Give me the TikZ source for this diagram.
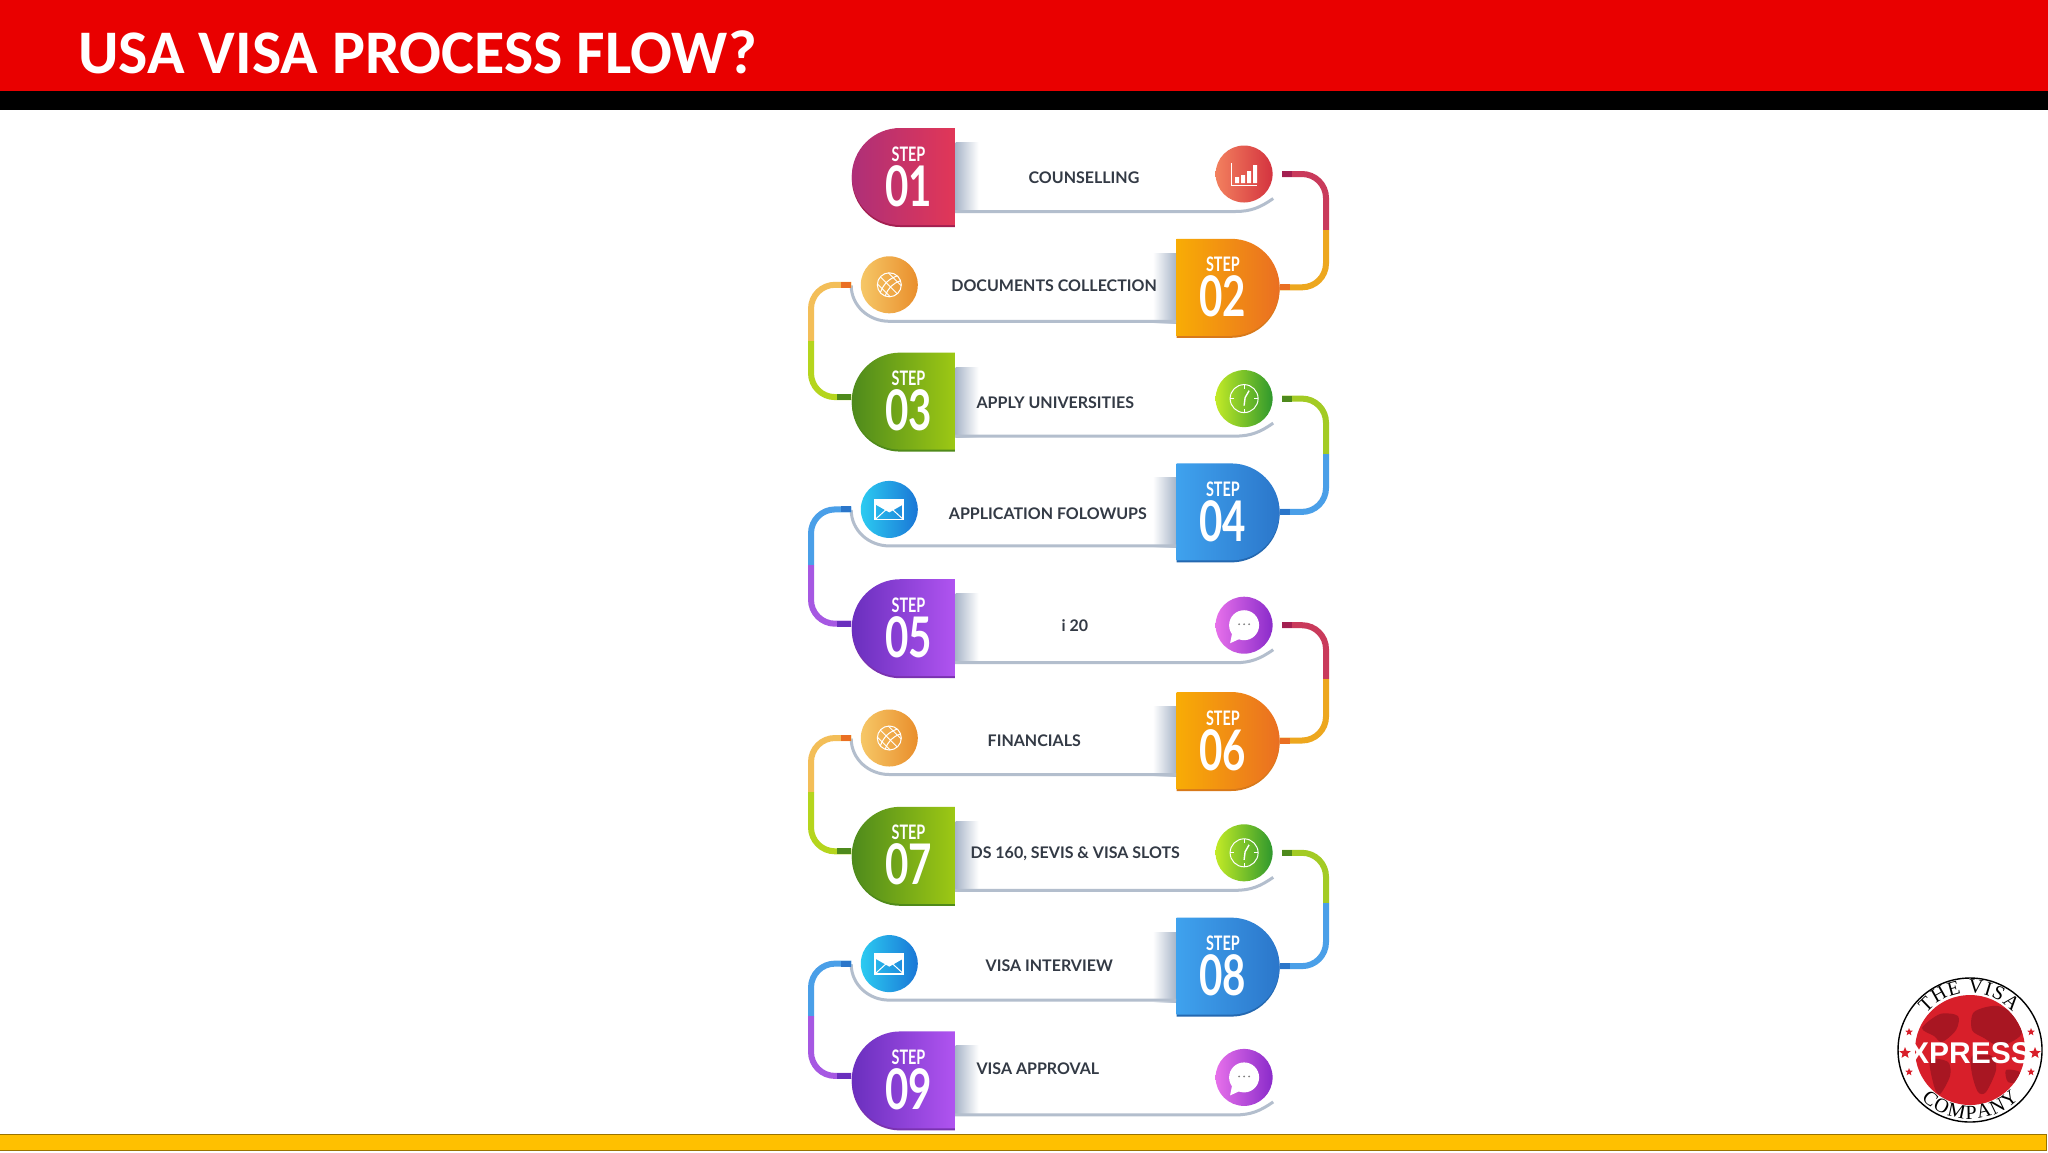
\documentclass[tikz,border=0pt]{standalone}
\usepackage{fontspec}
\usetikzlibrary{calc,positioning,shapes.misc,shapes.geometric,shadows,decorations.text}
\setmainfont{Lato}
\newfontfamily\titlefont{Carlito}
\newfontfamily\stepfont[FakeStretch=0.72]{Lato}
\newfontfamily\logofont{Liberation Serif}
\newfontfamily\markfont{Liberation Sans}
\definecolor{headred}{HTML}{E90000}
\definecolor{bandyellow}{HTML}{FFC000}
\definecolor{trackgray}{HTML}{B3BECD}
\definecolor{labelink}{HTML}{333A45}
\definecolor{logored}{HTML}{D81F2A}
\definecolor{landred}{HTML}{A81622}
\definecolor{rosedeep}{HTML}{AE2F78}\definecolor{rosebright}{HTML}{E13757}\definecolor{rosedark}{HTML}{A31F50}
\definecolor{amberbright}{HTML}{F8AC05}\definecolor{amberdeep}{HTML}{EA6F22}\definecolor{amberdark}{HTML}{D8791A}
\definecolor{limedeep}{HTML}{4E8A1C}\definecolor{limebright}{HTML}{9DC814}\definecolor{limedark}{HTML}{4F8A1A}
\definecolor{bluebright}{HTML}{3FA2EE}\definecolor{bluedeep}{HTML}{2B76CA}\definecolor{bluedark}{HTML}{2468B0}
\definecolor{violetdeep}{HTML}{6A2FBE}\definecolor{violetbright}{HTML}{B054F0}\definecolor{violetdark}{HTML}{7A32B0}
\definecolor{rosesoft}{HTML}{F2805E}\definecolor{rosestrong}{HTML}{D4333F}
\definecolor{ambersoft}{HTML}{F6C767}\definecolor{amberstrong}{HTML}{E98E2C}
\definecolor{limesoft}{HTML}{C2EA26}\definecolor{limestrong}{HTML}{2F982D}
\definecolor{bluesoft}{HTML}{2CCBF1}\definecolor{bluestrong}{HTML}{1A76D6}
\definecolor{violetsoft}{HTML}{E670EA}\definecolor{violetstrong}{HTML}{8A2BCA}
\definecolor{linkrose}{HTML}{C93A5B}\definecolor{linkamber}{HTML}{EDA71E}
\definecolor{linksand}{HTML}{F3BE58}\definecolor{linklime}{HTML}{A3CB24}
\definecolor{linkblue}{HTML}{4A9FE8}\definecolor{linkviolet}{HTML}{A658E2}
\definecolor{fadeblue}{HTML}{A9B6C9}
\tikzset{
pics/bars/.style={code={
\draw[glyph] (-13,11) -- (-13,-11) -- (13,-11);
\fill[white] (-9,-9) rectangle (-5,-3) (-3,-9) rectangle (1,-1) (3,-9) rectangle (7,3) (9,-9) rectangle (13,9);}},
pics/globe/.style={code={
\draw[glyph] (0,0) circle (12);
\draw[glyph] (-9,8) -- (8,-9) (-12,1) -- (1,-12) (-1,12) -- (12,-1);
\draw[glyph] (-9,-8) to[bend left=25] (8,9) (-4,-11) to[bend left=25] (11,4);}},
pics/clock/.style={code={
\draw[glyph] (0,0) circle (14);
\draw[glyph, line width=.7pt] (0,-7) -- (1,1) -- (5,8);
\draw[glyph] (0,14) -- (0,10) (0,-14) -- (0,-10) (14,0) -- (10,0) (-14,0) -- (-10,0);}},
pics/mail/.style={code={
\draw[white, line width=.9pt] (-14,-10) rectangle (14,10);
\fill[white] (-14,10) -- (14,10) -- (14,5) -- (0,-3) -- (-14,5) -- cycle;
\draw[glyph] (-14,-10) -- (-3,0) (14,-10) -- (3,0);}},
pics/chat/.style={code={
\fill[white] (0,0) circle (15);
\fill[white] (-12,-8) -- (-14,-18) -- (-3,-13) -- cycle;
\fill[gray] (-5,1) circle (1) (0,1) circle (1) (5,1) circle (1);}}
}

\begin{document}
\begin{tikzpicture}
[x=.5pt, y=.5pt,
badge/.style={rounded rectangle, minimum width=51.5pt, minimum height=48.5pt,
inner sep=0pt, text=white, align=center,
font=\stepfont\bfseries\fontsize{28}{22.5}\selectfont},
oddbadge/.style={badge, rounded rectangle east arc=none},
evenbadge/.style={badge, rounded rectangle west arc=none},
rim/.style={general shadow={fill=#1, shadow xshift=0pt, shadow yshift=-1pt}},
rosebadge/.style={oddbadge, left color=rosedeep, right color=rosebright, rim=rosedark},
amberbadge/.style={evenbadge, left color=amberbright, right color=amberdeep, rim=amberdark},
limebadge/.style={oddbadge, left color=limedeep, right color=limebright, rim=limedark},
bluebadge/.style={evenbadge, left color=bluebright, right color=bluedeep, rim=bluedark},
violetbadge/.style={oddbadge, left color=violetdeep, right color=violetbright, rim=violetdark},
iconbase/.style={circle, minimum size=28.5pt, inner sep=0pt},
roseicon/.style={iconbase, left color=rosesoft, right color=rosestrong},
ambericon/.style={iconbase, left color=ambersoft, right color=amberstrong},
limeicon/.style={iconbase, left color=limesoft, right color=limestrong},
blueicon/.style={iconbase, left color=bluesoft, right color=bluestrong},
violeticon/.style={iconbase, left color=violetsoft, right color=violetstrong},
fadeedge/.style={rectangle, minimum width=11.5pt, minimum height=35pt, inner sep=0pt},
steplabel/.style={inner sep=0pt, text=labelink, font=\bfseries\fontsize{8}{10}\selectfont},
track/.style={draw=trackgray, line width=1.5pt},
link/.style={line width=3pt, rounded corners=12pt},
stub/.style={line width=3pt},
glyph/.style={draw=white, line width=.5pt}]

% Draw header and footer
\path[use as bounding box] (0,0) rectangle (2048,-1152);
\fill[white] (0,0) rectangle (2048,-1152);
\fill[headred] (0,0) rectangle (2048,-91);
\fill[black] (0,-91) rectangle (2048,-110);
\fill[bandyellow, draw=bandyellow!60!black, line width=.4pt] (-2,-1134) rectangle (2046,-1150);
\node[anchor=west, inner sep=0pt, text=white, font=\titlefont\bfseries\fontsize{31}{36}\selectfont]
(title) at (78,-52) {USA VISA PROCESS FLOW?};

% Draw steps
\node[rosebadge] (step1) at (908.5,-176.5) {{\fontsize{10}{10}\selectfont STEP}\\01};
\node[amberbadge, below right=6.5pt and 110.5pt of step1] (step2) {{\fontsize{10}{10}\selectfont STEP}\\02};
\node[limebadge, below left=8pt and 110.5pt of step2] (step3) {{\fontsize{10}{10}\selectfont STEP}\\03};
\node[bluebadge, below right=6.5pt and 110.5pt of step3] (step4) {{\fontsize{10}{10}\selectfont STEP}\\04};
\node[violetbadge, below left=9pt and 110.5pt of step4] (step5) {{\fontsize{10}{10}\selectfont STEP}\\05};
\node[amberbadge, below right=7.5pt and 110.5pt of step5] (step6) {{\fontsize{10}{10}\selectfont STEP}\\06};
\node[limebadge, below left=8.5pt and 110.5pt of step6] (step7) {{\fontsize{10}{10}\selectfont STEP}\\07};
\node[bluebadge, below right=6.5pt and 110.5pt of step7] (step8) {{\fontsize{10}{10}\selectfont STEP}\\08};
\node[violetbadge, below left=8pt and 110.5pt of step8] (step9) {{\fontsize{10}{10}\selectfont STEP}\\09};

% Draw shaded edges beside steps
\node[fadeedge, left color=fadeblue, right color=white, right=0pt of step1, yshift=-.5pt] (fade1) {};
\node[fadeedge, right color=fadeblue, left color=white, left=0pt of step2, yshift=-.5pt] (fade2) {};
\node[fadeedge, left color=fadeblue, right color=white, right=0pt of step3, yshift=-.5pt] (fade3) {};
\node[fadeedge, right color=fadeblue, left color=white, left=0pt of step4, yshift=-.5pt] (fade4) {};
\node[fadeedge, left color=fadeblue, right color=white, right=0pt of step5, yshift=-.5pt] (fade5) {};
\node[fadeedge, right color=fadeblue, left color=white, left=0pt of step6, yshift=-.5pt] (fade6) {};
\node[fadeedge, left color=fadeblue, right color=white, right=0pt of step7, yshift=-.5pt] (fade7) {};
\node[fadeedge, right color=fadeblue, left color=white, left=0pt of step8, yshift=-.5pt] (fade8) {};
\node[fadeedge, left color=fadeblue, right color=white, right=0pt of step9, yshift=-.5pt] (fade9) {};

% Draw tracks
\draw[track] ([yshift=-17.5pt]step1.east) -- ++(280,0) to[out=0,in=215] ++(38,13);
\draw[track] ([yshift=-17pt]step2.west) -- ++(-287,0) to[out=180,in=-90] ++(-38,36);
\draw[track] ([yshift=-17.5pt]step3.east) -- ++(280,0) to[out=0,in=215] ++(38,13);
\draw[track] ([yshift=-17pt]step4.west) -- ++(-287,0) to[out=180,in=-90] ++(-38,36);
\draw[track] ([yshift=-17.5pt]step5.east) -- ++(280,0) to[out=0,in=215] ++(38,13);
\draw[track] ([yshift=-17pt]step6.west) -- ++(-287,0) to[out=180,in=-90] ++(-38,36);
\draw[track] ([yshift=-17.5pt]step7.east) -- ++(280,0) to[out=0,in=215] ++(38,13);
\draw[track] ([yshift=-17pt]step8.west) -- ++(-287,0) to[out=180,in=-90] ++(-38,36);
\draw[track] ([yshift=-17.5pt]step9.east) -- ++(280,0) to[out=0,in=215] ++(38,13);

% Draw icons
\node[roseicon, right=130pt of step1, yshift=1.25pt] (icon1) {};
\node[ambericon, left=129pt of step2, yshift=1.25pt] (icon2) {};
\node[limeicon, right=130pt of step3, yshift=1.25pt] (icon3) {};
\node[blueicon, left=129pt of step4, yshift=1.25pt] (icon4) {};
\node[violeticon, right=130pt of step5, yshift=1.25pt] (icon5) {};
\node[ambericon, left=129pt of step6, yshift=1.25pt] (icon6) {};
\node[limeicon, right=130pt of step7, yshift=1.25pt] (icon7) {};
\node[blueicon, left=129pt of step8, yshift=1.25pt] (icon8) {};
\node[violeticon, right=130pt of step9, yshift=1.25pt] (icon9) {};
\pic at (icon1) {bars};
\pic at (icon2) {globe};
\pic at (icon3) {clock};
\pic at (icon4) {mail};
\pic at (icon5) {chat};
\pic at (icon6) {globe};
\pic at (icon7) {clock};
\pic at (icon8) {mail};
\pic at (icon9) {chat};

% Draw labels
\node[steplabel, right=36.5pt of step1, yshift=-.75pt] (label1) {COUNSELLING};
\node[steplabel, left=9.5pt of step2, yshift=.75pt] (label2) {DOCUMENTS COLLECTION};
\node[steplabel, right=10.5pt of step3, yshift=-1pt] (label3) {APPLY UNIVERSITIES};
\node[steplabel, left=14.5pt of step4, yshift=-1pt] (label4) {APPLICATION FOLOWUPS};
\node[steplabel, right=53pt of step5, yshift=1pt] (label5) {i 20};
\node[steplabel, left=47.5pt of step6] (label6) {FINANCIALS};
\node[steplabel, right=7.5pt of step7, yshift=1pt] (label7) {DS 160, SEVIS \& VISA SLOTS};
\node[steplabel, left=31.5pt of step8] (label8) {VISA INTERVIEW};
\node[steplabel, right=10.5pt of step9, yshift=5.5pt] (label9) {VISA APPROVAL};

% Draw connectors
\coordinate (turn1) at (1326,-230);
\coordinate (turn2) at (811,-341);
\coordinate (turn3) at (1326,-454);
\coordinate (turn4) at (811,-565);
\coordinate (turn5) at (1326,-679);
\coordinate (turn6) at (811,-792);
\coordinate (turn7) at (1326,-903);
\coordinate (turn8) at (811,-1016);
\draw[link, linkrose, shorten <=4.5pt] (icon1.east) -| (turn1);
\draw[link, linkamber] (turn1) |- (step2.east);
\draw[link, linksand, shorten <=4.5pt] (icon2.west) -| (turn2);
\draw[link, linklime!80!yellow] (turn2) |- ([yshift=2pt]step3.west);
\draw[link, linklime, shorten <=4.5pt] (icon3.east) -| (turn3);
\draw[link, linkblue] (turn3) |- (step4.east);
\draw[link, linkblue, shorten <=4.5pt] (icon4.west) -| (turn4);
\draw[link, linkviolet] (turn4) |- ([yshift=2pt]step5.west);
\draw[link, linkrose, shorten <=4.5pt] (icon5.east) -| (turn5);
\draw[link, linkamber] (turn5) |- (step6.east);
\draw[link, linksand, shorten <=4.5pt] (icon6.west) -| (turn6);
\draw[link, linklime!80!yellow] (turn6) |- ([yshift=2pt]step7.west);
\draw[link, linklime, shorten <=4.5pt] (icon7.east) -| (turn7);
\draw[link, linkblue] (turn7) |- (step8.east);
\draw[link, linkblue, shorten <=4.5pt] (icon8.west) -| (turn8);
\draw[link, linkviolet] (turn8) |- ([yshift=2pt]step9.west);

% Draw darker connector ends
\draw[stub, rosedark] ([xshift=4.5pt]icon1.east) -- ++(10,0);
\draw[stub, amberdeep] (step2.east) -- ++(10,0);
\draw[stub, amberdeep] ([xshift=-4.5pt]icon2.west) -- ++(-10,0);
\draw[stub, limedeep] ([yshift=2pt]step3.west) -- ++(-14,0);
\draw[stub, limedeep] ([xshift=4.5pt]icon3.east) -- ++(10,0);
\draw[stub, bluedeep] (step4.east) -- ++(10,0);
\draw[stub, bluedeep] ([xshift=-4.5pt]icon4.west) -- ++(-10,0);
\draw[stub, violetdeep] ([yshift=2pt]step5.west) -- ++(-14,0);
\draw[stub, rosedark] ([xshift=4.5pt]icon5.east) -- ++(10,0);
\draw[stub, amberdeep] (step6.east) -- ++(10,0);
\draw[stub, amberdeep] ([xshift=-4.5pt]icon6.west) -- ++(-10,0);
\draw[stub, limedeep] ([yshift=2pt]step7.west) -- ++(-14,0);
\draw[stub, limedeep] ([xshift=4.5pt]icon7.east) -- ++(10,0);
\draw[stub, bluedeep] (step8.east) -- ++(10,0);
\draw[stub, bluedeep] ([xshift=-4.5pt]icon8.west) -- ++(-10,0);
\draw[stub, violetdeep] ([yshift=2pt]step9.west) -- ++(-14,0);

% Draw logo
\node[circle, draw=black, line width=.7pt, fill=white, minimum size=72pt, inner sep=0pt] (seal) at (1970,-1050) {};
\node[circle, fill=logored, minimum size=55pt, inner sep=0pt] (disc) at (seal) {};
\begin{scope}[shift={(seal)}]
\clip (0,0) circle (55);
\fill[landred] plot[smooth cycle] coordinates {(-48,22) (-30,36) (-12,34) (-14,20) (-28,8) (-36,14)};
\fill[landred] plot[smooth cycle] coordinates {(4,38) (28,44) (52,30) (50,14) (30,4) (14,12) (2,20)};
\fill[landred] plot[smooth cycle] coordinates {(2,-6) (22,-6) (26,-20) (16,-42) (8,-42) (2,-24)};
\fill[landred] plot[smooth cycle] coordinates {(-40,-10) (-22,-12) (-20,-26) (-30,-44) (-36,-36)};
\fill[landred] plot[smooth cycle] coordinates {(36,-20) (50,-22) (50,-32) (38,-32)};
\end{scope}
\node[star, star points=5, star point ratio=2.3, fill=logored, inner sep=0pt, minimum size=4pt] (starwest1) at ($(seal)+(-61,18)$) {};
\node[star, star points=5, star point ratio=2.3, fill=logored, inner sep=0pt, minimum size=6pt] (starwest2) at ($(seal)+(-65,-3)$) {};
\node[star, star points=5, star point ratio=2.3, fill=logored, inner sep=0pt, minimum size=4pt] (starwest3) at ($(seal)+(-61,-22)$) {};
\node[star, star points=5, star point ratio=2.3, fill=logored, inner sep=0pt, minimum size=4pt] (stareast1) at ($(seal)+(61,18)$) {};
\node[star, star points=5, star point ratio=2.3, fill=logored, inner sep=0pt, minimum size=6pt] (stareast2) at ($(seal)+(65,-3)$) {};
\node[star, star points=5, star point ratio=2.3, fill=logored, inner sep=0pt, minimum size=4pt] (stareast3) at ($(seal)+(61,-22)$) {};
\node[inner sep=0pt, text=white, font=\markfont\bfseries\fontsize{15}{16}\selectfont] (xpress) at ($(seal)+(0,-3)$) {XPRESS};
\path[decorate, decoration={text along path, text align=fit to path, text={|\logofont\fontsize{10}{10}\selectfont|THE VISA}}]
($(seal)+(140:57)$) arc[start angle=140, end angle=42, radius=57];
\path[decorate, decoration={text along path, text align=fit to path, text={|\logofont\fontsize{10}{10}\selectfont|COMPANY}}]
($(seal)+(225:69)$) arc[start angle=225, end angle=315, radius=69];

\end{tikzpicture}
\end{document}
